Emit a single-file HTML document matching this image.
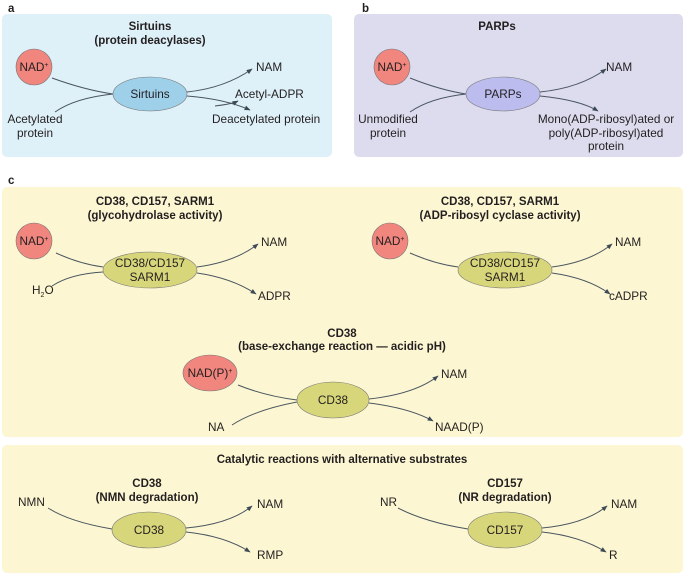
<!DOCTYPE html>
<html><head><meta charset="utf-8"><style>body{margin:0;background:#fff}svg{display:block}text{font-family:"Liberation Sans",sans-serif;font-size:11.8px;fill:#231f20}.b{font-weight:bold;font-size:11.5px}.c{text-anchor:middle}</style></head><body>
<svg width="685" height="576" viewBox="0 0 685 576">
<defs><marker id="ar" viewBox="0 0 10 10" refX="9" refY="5" markerWidth="6" markerHeight="6" orient="auto"><path d="M0,1 L10,5 L0,9 z" fill="#3d4a55"/></marker></defs>
<rect x="2" y="14" width="330" height="143" rx="5" fill="#def0f8"/>
<rect x="354" y="14" width="329" height="143" rx="5" fill="#dcdcee"/>
<rect x="2" y="187" width="681" height="250" rx="5" fill="#fcf7d2"/>
<rect x="2" y="445" width="681" height="128" rx="5" fill="#fcf7d2"/>
<text x="8" y="12" class="b" font-size="12">a</text>
<text x="362" y="12" class="b" font-size="12">b</text>
<text x="8" y="184" class="b" font-size="12">c</text>

<g fill="none" stroke="#4a5560" stroke-width="1">
<path d="M52,78 Q85,90 113,94"/><path d="M55,112 Q75,98 113,94"/>
<path d="M187,92 Q225,88 252,69" marker-end="url(#ar)"/>
<path d="M187,96 Q225,99 250,110" marker-end="url(#ar)"/>
<path d="M215,106 Q232,104 238,101" marker-end="url(#ar)"/>
<path d="M410,78 Q440,90 466,94"/><path d="M410,112 Q430,98 466,94"/>
<path d="M540,92 Q580,88 606,69" marker-end="url(#ar)"/>
<path d="M540,96 Q580,100 598,111" marker-end="url(#ar)"/>
<path d="M56,253 Q80,264 103,267"/><path d="M52,286 Q70,274 103,272"/>
<path d="M197,267 Q235,262 258,244" marker-end="url(#ar)"/>
<path d="M197,273 Q232,278 256,294" marker-end="url(#ar)"/>
<path d="M410,253 Q435,264 458,267"/>
<path d="M552,267 Q590,262 612,244" marker-end="url(#ar)"/>
<path d="M552,273 Q588,278 610,294" marker-end="url(#ar)"/>
<path d="M238,385 Q265,396 297,400"/><path d="M232,425 Q255,410 297,402"/>
<path d="M369,399 Q415,394 438,376" marker-end="url(#ar)"/>
<path d="M369,403 Q410,408 433,421" marker-end="url(#ar)"/>
<path d="M48,508 Q70,522 112,529"/>
<path d="M186,528 Q230,524 252,506" marker-end="url(#ar)"/>
<path d="M186,532 Q225,536 250,552" marker-end="url(#ar)"/>
<path d="M398,508 Q425,522 468,529"/>
<path d="M542,528 Q585,524 607,506" marker-end="url(#ar)"/>
<path d="M542,532 Q580,536 606,552" marker-end="url(#ar)"/>
</g>

<g stroke="#777" stroke-width="0.6">
<circle cx="34" cy="67" r="18" fill="#f0867e"/>
<ellipse cx="150" cy="94" rx="37" ry="17" fill="#9fd0ea"/>
<circle cx="392" cy="67" r="18" fill="#f0867e"/>
<ellipse cx="503" cy="94" rx="37" ry="17" fill="#bcbcee"/>
<circle cx="34" cy="241" r="18" fill="#f0867e"/>
<ellipse cx="150" cy="270" rx="47" ry="18" fill="#d8d67a"/>
<circle cx="390" cy="241" r="18" fill="#f0867e"/>
<ellipse cx="505" cy="270" rx="47" ry="18" fill="#d8d67a"/>
<ellipse cx="210" cy="373" rx="27" ry="18" fill="#f0867e"/>
<ellipse cx="333" cy="400" rx="36" ry="18" fill="#d8d67a"/>
<ellipse cx="149" cy="530" rx="37" ry="18" fill="#d8d67a"/>
<ellipse cx="505" cy="530" rx="37" ry="18" fill="#d8d67a"/>
</g>

<text x="150" y="30" class="b c">Sirtuins</text>
<text x="150" y="44" class="b c">(protein deacylases)</text>
<text x="34" y="71" class="c">NAD<tspan font-size="7" dy="-4">+</tspan></text>
<text x="150" y="98" class="c">Sirtuins</text>
<text x="256" y="71">NAM</text>
<text x="235" y="98">Acetyl-ADPR</text>
<text x="212" y="123">Deacetylated protein</text>
<text x="35" y="123" class="c">Acetylated</text>
<text x="35" y="137" class="c">protein</text>

<text x="497" y="30" class="b c">PARPs</text>
<text x="392" y="71" class="c">NAD<tspan font-size="7" dy="-4">+</tspan></text>
<text x="503" y="98" class="c">PARPs</text>
<text x="606" y="71">NAM</text>
<text x="606" y="123" class="c">Mono(ADP-ribosyl)ated or</text>
<text x="606" y="137" class="c">poly(ADP-ribosyl)ated</text>
<text x="606" y="150" class="c">protein</text>
<text x="388" y="123" class="c">Unmodified</text>
<text x="388" y="137" class="c">protein</text>

<text x="155" y="205" class="b c">CD38, CD157, SARM1</text>
<text x="155" y="219" class="b c">(glycohydrolase activity)</text>
<text x="34" y="245" class="c">NAD<tspan font-size="7" dy="-4">+</tspan></text>
<text x="150" y="267" class="c">CD38/CD157</text>
<text x="150" y="281" class="c">SARM1</text>
<text x="261" y="246">NAM</text>
<text x="258" y="300">ADPR</text>
<text x="32" y="294">H<tspan font-size="7" dy="3">2</tspan><tspan dy="-3">O</tspan></text>

<text x="500" y="205" class="b c">CD38, CD157, SARM1</text>
<text x="500" y="219" class="b c">(ADP-ribosyl cyclase activity)</text>
<text x="390" y="245" class="c">NAD<tspan font-size="7" dy="-4">+</tspan></text>
<text x="505" y="267" class="c">CD38/CD157</text>
<text x="505" y="281" class="c">SARM1</text>
<text x="615" y="246">NAM</text>
<text x="609" y="300">cADPR</text>

<text x="342" y="337" class="b c">CD38</text>
<text x="342" y="350" class="b c">(base-exchange reaction — acidic pH)</text>
<text x="210" y="377" class="c">NAD(P)<tspan font-size="7" dy="-4">+</tspan></text>
<text x="333" y="404" class="c">CD38</text>
<text x="441" y="378">NAM</text>
<text x="435" y="431">NAAD(P)</text>
<text x="208" y="431">NA</text>

<text x="342" y="463" class="b c">Catalytic reactions with alternative substrates</text>
<text x="147" y="487" class="b c">CD38</text>
<text x="147" y="501" class="b c">(NMN degradation)</text>
<text x="18" y="506">NMN</text>
<text x="149" y="534" class="c">CD38</text>
<text x="257" y="508">NAM</text>
<text x="257" y="559">RMP</text>
<text x="505" y="487" class="b c">CD157</text>
<text x="505" y="501" class="b c">(NR degradation)</text>
<text x="380" y="506">NR</text>
<text x="505" y="534" class="c">CD157</text>
<text x="611" y="508">NAM</text>
<text x="609" y="559">R</text>
</svg>
</body></html>
